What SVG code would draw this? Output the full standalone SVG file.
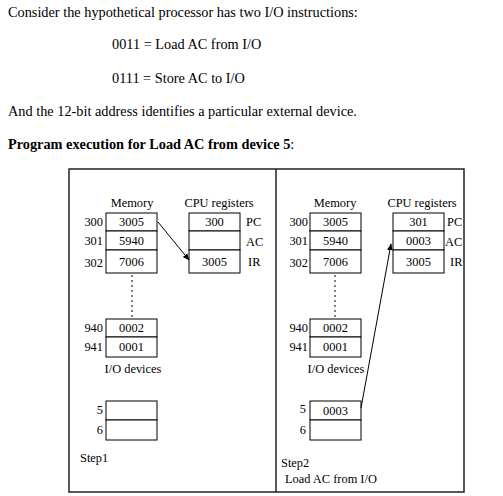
<svg xmlns="http://www.w3.org/2000/svg" width="503" height="496" viewBox="0 0 503 496">
<defs>
<style>
text{font-family:'Liberation Serif',serif;fill:#000}
.t{font-size:14.3px}
.d{font-size:12.4px}
.c{text-anchor:middle}
.r{text-anchor:end}
.box{fill:#fff;stroke:#000;stroke-width:1}
.frame{fill:none;stroke:#222;stroke-width:1.5}
.dot{stroke:#000;stroke-width:1;stroke-dasharray:2 3}
.arr{stroke:#000;stroke-width:1;fill:none;marker-end:url(#ah)}
</style>
<marker id="ah" viewBox="0 0 10 10" refX="9" refY="5" markerWidth="7" markerHeight="7" orient="auto" markerUnits="userSpaceOnUse">
<path d="M0,1 L10,5 L0,9 z" fill="#000"/>
</marker>
</defs>
<rect width="503" height="496" fill="#fff"/>
<g id="intro">
<text class="t" x="8" y="17">Consider the hypothetical processor has two I/O instructions:</text>
<text class="t" x="112" y="49">0011 = Load AC from I/O</text>
<text class="t" x="112" y="83">0111 = Store AC to I/O</text>
<text class="t" x="8" y="116">And the 12-bit address identifies a particular external device.</text>
<text class="t" x="8" y="149"><tspan font-weight="bold">Program execution for Load AC from device 5</tspan>:</text>
</g>
<g id="frame">
<rect class="frame" x="69" y="169" width="395" height="323"/>
<line class="frame" x1="276" y1="169" x2="276" y2="492"/>
</g>
<g id="step1">
<g id="s1-memory">
<text class="d c" x="132" y="207">Memory</text>
<rect class="box" x="106" y="213" width="51" height="18"/>
<rect class="box" x="106" y="231" width="51" height="19"/>
<rect class="box" x="106" y="250" width="51" height="23"/>
<text class="d c" x="131.5" y="226">3005</text>
<text class="d c" x="131.5" y="245">5940</text>
<text class="d c" x="131.5" y="266">7006</text>
<text class="d r" x="103" y="226">300</text>
<text class="d r" x="103" y="245">301</text>
<text class="d r" x="103" y="267">302</text>
<line class="dot" x1="132" y1="275" x2="132" y2="318"/>
<rect class="box" x="106" y="319" width="51" height="18"/>
<rect class="box" x="106" y="337" width="51" height="20"/>
<text class="d c" x="131.5" y="332">0002</text>
<text class="d c" x="131.5" y="351">0001</text>
<text class="d r" x="103" y="332">940</text>
<text class="d r" x="103" y="351">941</text>
</g>
<g id="s1-io">
<text class="d c" x="133" y="373">I/O devices</text>
<rect class="box" x="106" y="401" width="51" height="19"/>
<rect class="box" x="106" y="420" width="51" height="20"/>
<text class="d r" x="103" y="414">5</text>
<text class="d r" x="103" y="434">6</text>
</g>
<g id="s1-cpu">
<text class="d c" x="219" y="207">CPU registers</text>
<rect class="box" x="189" y="213" width="51" height="18"/>
<rect class="box" x="189" y="231" width="51" height="19"/>
<rect class="box" x="189" y="250" width="51" height="23"/>
<text class="d c" x="214.5" y="226">300</text>
<text class="d c" x="214.5" y="266">3005</text>
<text class="d" x="246" y="226">PC</text>
<text class="d" x="246" y="246">AC</text>
<text class="d" x="248" y="266">IR</text>
</g>
<text class="d" x="80" y="462">Step1</text>
</g>
<g id="step2">
<g id="s2-memory">
<text class="d c" x="335" y="207">Memory</text>
<rect class="box" x="310" y="213" width="51" height="18"/>
<rect class="box" x="310" y="231" width="51" height="19"/>
<rect class="box" x="310" y="250" width="51" height="23"/>
<text class="d c" x="335.5" y="226">3005</text>
<text class="d c" x="335.5" y="245">5940</text>
<text class="d c" x="335.5" y="266">7006</text>
<text class="d r" x="308" y="226">300</text>
<text class="d r" x="308" y="245">301</text>
<text class="d r" x="308" y="267">302</text>
<line class="dot" x1="335" y1="275" x2="335" y2="318"/>
<rect class="box" x="310" y="319" width="51" height="18"/>
<rect class="box" x="310" y="337" width="51" height="20"/>
<text class="d c" x="335.5" y="332">0002</text>
<text class="d c" x="335.5" y="351">0001</text>
<text class="d r" x="308" y="332">940</text>
<text class="d r" x="308" y="351">941</text>
</g>
<g id="s2-io">
<text class="d c" x="336" y="373">I/O devices</text>
<rect class="box" x="310" y="401" width="51" height="19"/>
<rect class="box" x="310" y="420" width="51" height="20"/>
<text class="d c" x="335.5" y="415">0003</text>
<text class="d r" x="306" y="413">5</text>
<text class="d r" x="306" y="434">6</text>
</g>
<g id="s2-cpu">
<text class="d c" x="422" y="207">CPU registers</text>
<rect class="box" x="393" y="213" width="51" height="18"/>
<rect class="box" x="393" y="231" width="51" height="19"/>
<rect class="box" x="393" y="250" width="51" height="23"/>
<text class="d c" x="418.5" y="226">301</text>
<text class="d c" x="418.5" y="245">0003</text>
<text class="d c" x="418.5" y="266">3005</text>
<text class="d" x="447" y="226">PC</text>
<text class="d" x="445" y="246">AC</text>
<text class="d" x="450" y="266">IR</text>
</g>
<text class="d" x="281" y="467">Step2</text>
<text class="d" x="285" y="483">Load AC from I/O</text>
</g>
<g id="connectors">
<line class="arr" x1="158" y1="222" x2="189" y2="260"/>
<line class="arr" x1="361" y1="408" x2="391" y2="244"/>
</g>
</svg>
